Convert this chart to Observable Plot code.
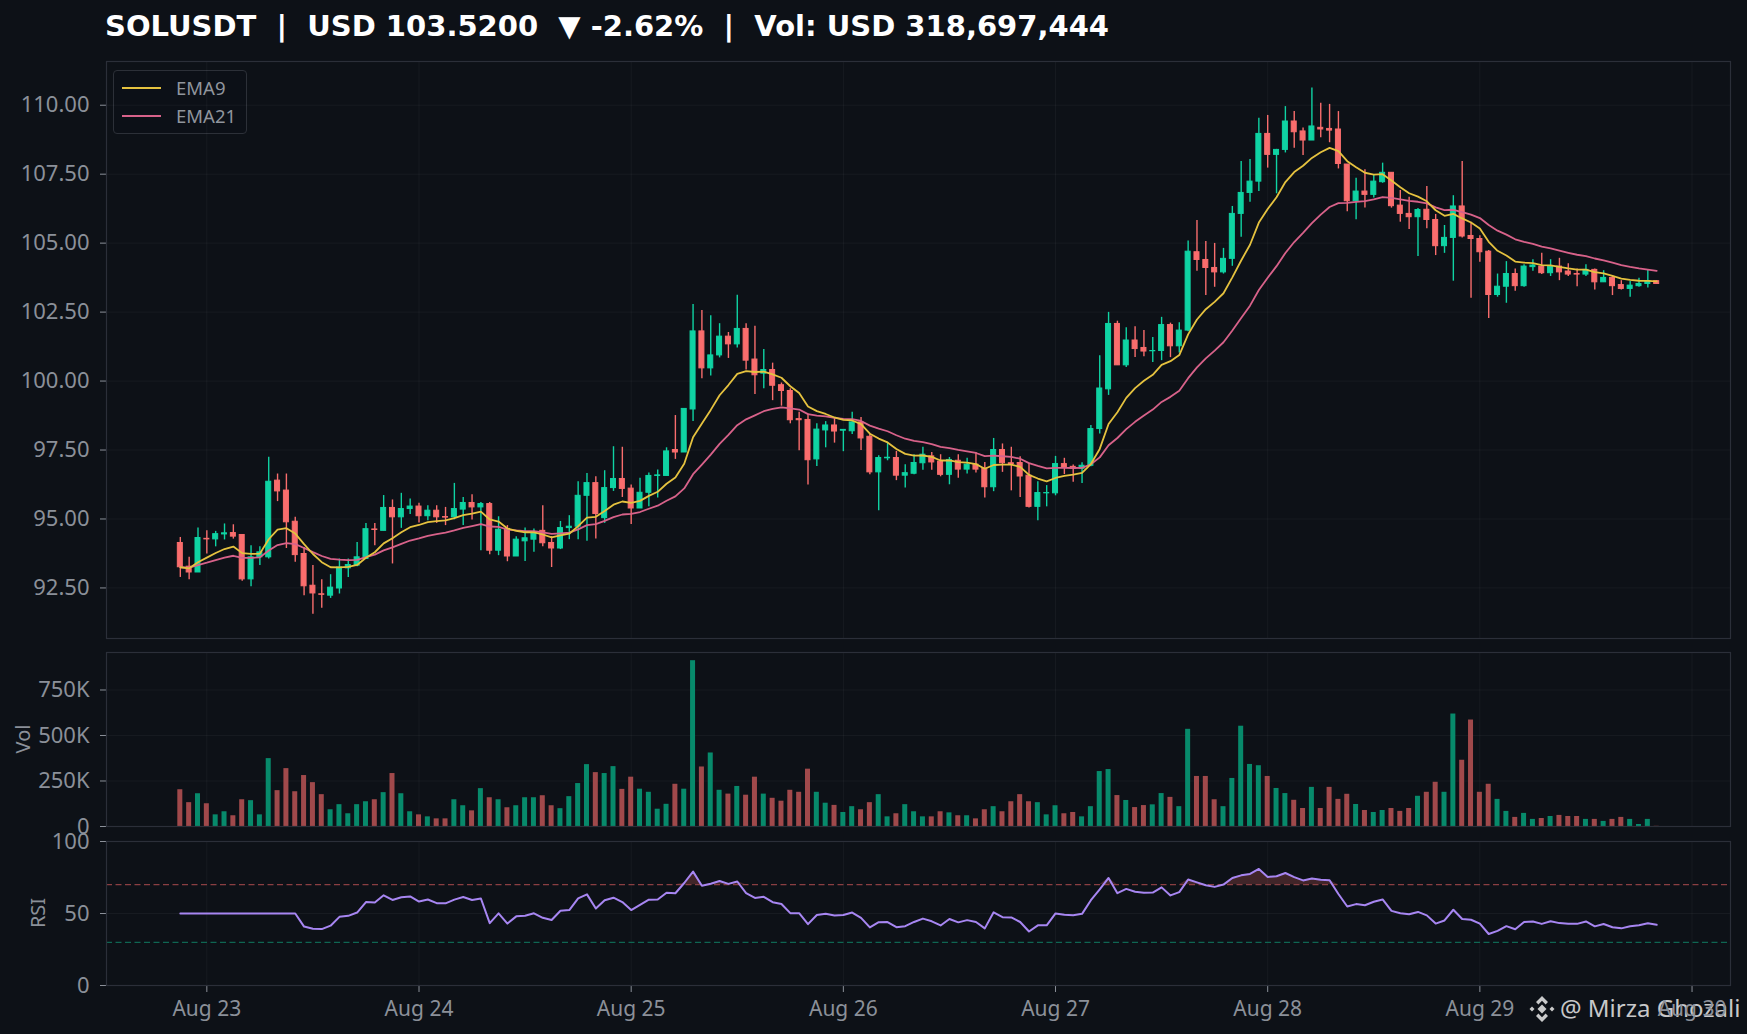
<!DOCTYPE html>
<html><head><meta charset="utf-8">
<script src="https://cdn.jsdelivr.net/npm/d3@7"></script>
<script src="https://cdn.jsdelivr.net/npm/@observablehq/plot@0.6"></script>
<style>
html,body{margin:0;padding:0;background:#0d1117;}
#wrap{position:relative;width:1747px;height:1034px;background:#0d1117;overflow:hidden;font-family:"Noto Sans",sans-serif;}
#title{position:absolute;left:105px;top:12px;color:#ffffff;font-family:"DejaVu Sans",sans-serif;font-weight:bold;font-size:29px;line-height:29px;white-space:pre;}
.panel{position:absolute;left:0;}
.ylab{position:absolute;color:#8b9099;font-size:20px;transform:translate(-50%,-50%) rotate(-90deg);white-space:nowrap;}
#legend{position:absolute;left:113px;top:70px;width:132px;height:62px;border:1px solid #2c3038;border-radius:4px;background:rgba(13,17,23,0.85);}
.lg{position:absolute;left:0;width:132px;height:22px;}
.lg .sw{position:absolute;left:8px;top:10px;width:39px;height:2px;}
.lg .tx{position:absolute;left:62px;top:0;color:#90959d;font-size:18.5px;line-height:22px;}
#wm{position:absolute;left:1528px;top:991px;height:34px;color:rgba(235,235,235,0.85);font-size:24px;line-height:34px;white-space:nowrap;}
#wm svg{vertical-align:middle;margin-right:4px;position:relative;top:-2px;}
</style></head>
<body><div id="wrap">
<div id="title"></div>
<div id="legend"></div>
<div id="wm"></div>
</div>
<script>
// ---- data (hourly candles, SOLUSDT) ----
const startTime = "2024-08-22T21:00:00Z";
const opens = [94.13,93.27,93.06,94.28,94.26,94.44,94.49,94.42,92.81,93.61,93.61,96.39,96.03,94.90,93.73,92.58,92.27,92.22,92.48,93.21,93.31,93.55,94.62,94.57,95.40,
95.06,95.36,95.45,95.10,95.30,95.07,95.06,95.34,95.58,95.42,95.54,93.85,94.64,93.64,94.19,94.25,94.57,94.13,93.93,94.67,94.72,95.84,96.30,95.03,96.12,96.45,
96.10,95.38,95.95,96.56,96.56,97.50,97.41,98.97,101.80,100.46,100.93,101.61,101.33,101.89,100.78,100.27,100.40,99.85,99.64,98.62,98.59,97.16,98.21,98.39,98.20,
98.18,98.50,97.98,96.69,97.20,97.21,96.57,96.64,97.02,97.27,97.08,96.60,97.11,96.79,96.97,96.83,96.15,97.50,97.02,97.03,96.57,95.44,95.93,95.93,96.99,
96.89,96.82,96.93,98.26,99.70,102.07,100.57,101.47,101.20,101.08,101.09,102.03,101.26,101.83,104.67,104.39,104.10,103.94,104.43,106.06,106.82,107.23,108.96,108.20,108.38,
109.41,109.05,108.72,109.18,109.14,109.12,107.85,106.52,106.87,106.75,107.21,107.55,106.36,106.06,105.94,106.21,105.84,104.89,105.19,106.33,105.26,105.15,104.69,103.12,103.42,
103.88,103.44,104.13,104.15,103.91,104.15,103.97,103.88,103.86,104.03,103.58,103.74,103.48,103.34,103.44,103.52,103.62];
const highs = [94.33,93.61,94.67,94.57,94.55,94.82,94.79,94.42,94.03,93.99,97.24,96.63,96.63,95.06,93.97,93.31,92.80,92.98,93.55,93.55,94.15,94.84,94.84,95.85,95.69,
95.93,95.72,95.57,95.48,95.48,95.42,96.29,95.78,95.88,95.60,95.60,95.08,94.76,94.36,94.67,94.64,95.48,94.36,94.91,95.12,96.35,96.65,96.53,96.75,97.62,97.60,
96.23,96.48,96.67,96.78,97.58,98.75,98.99,102.78,102.56,102.37,102.08,101.76,103.11,102.08,101.99,101.14,100.65,99.93,99.72,98.87,98.81,98.45,98.53,98.64,98.24,
98.87,98.68,98.08,97.29,97.78,97.45,96.97,97.33,97.60,97.41,97.33,97.23,97.33,97.20,97.41,97.05,97.92,97.72,97.60,97.26,97.02,96.35,96.21,97.27,97.20,
96.96,97.04,98.39,100.92,102.49,102.17,101.93,101.97,101.83,101.58,102.31,102.10,102.11,105.08,105.82,105.06,104.99,104.81,106.33,107.96,108.03,109.53,109.63,108.40,109.95,
109.77,109.17,110.62,110.07,110.03,109.77,107.85,107.35,107.66,107.47,107.90,107.55,106.91,106.66,106.26,107.05,106.04,105.64,106.72,107.96,105.76,105.27,104.73,103.88,104.33,
104.06,104.22,104.40,104.63,104.40,104.45,104.25,104.06,104.22,104.06,104.00,103.82,103.64,103.61,103.73,104.03,103.64];
const lows = [92.88,92.80,93.06,93.73,93.99,94.24,94.27,92.74,92.54,93.31,93.55,95.63,93.93,93.43,92.22,91.55,91.76,92.12,92.28,92.88,93.27,93.55,94.03,94.57,93.37,
94.66,95.16,94.85,94.94,94.84,94.76,94.97,94.76,94.96,93.85,93.70,93.67,93.45,93.64,93.46,93.79,93.99,93.24,93.89,94.25,94.25,94.19,94.27,94.84,96.00,95.78,
94.80,95.38,95.44,95.76,96.56,97.16,97.41,98.53,100.08,100.18,100.84,100.82,101.20,100.40,99.51,99.72,99.29,99.09,98.45,97.47,96.23,96.90,97.58,97.75,97.44,
98.06,97.48,96.60,95.30,97.11,96.39,96.12,96.60,96.77,96.77,96.53,96.24,96.48,96.63,96.67,95.76,95.99,96.69,96.02,95.78,95.40,94.94,95.44,95.84,96.61,
96.33,96.29,96.89,98.08,99.48,100.57,100.49,100.85,100.88,100.67,100.74,100.85,101.02,101.79,103.98,103.10,103.40,103.88,104.16,105.21,106.48,106.87,107.72,106.79,108.27,
108.44,108.18,108.72,108.82,108.64,107.69,106.14,105.85,106.27,106.64,107.17,106.27,105.76,105.49,104.52,105.52,104.55,104.63,103.62,105.19,103.00,104.31,102.27,103.04,102.82,
103.26,103.40,103.98,103.86,103.79,103.64,103.79,103.42,103.79,103.30,103.58,103.10,103.30,103.04,103.40,103.37,103.50];
const closes = [93.25,93.06,94.31,94.26,94.45,94.48,94.36,92.81,93.61,93.79,96.35,96.00,94.88,93.69,92.56,92.30,92.25,92.51,93.24,93.33,93.61,94.63,94.60,95.40,95.06,
95.36,95.45,95.10,95.30,95.06,95.05,95.36,95.58,95.42,95.54,93.85,94.61,93.64,94.25,94.30,94.51,94.12,93.93,94.67,94.72,95.84,96.30,95.18,96.12,96.45,96.09,
95.38,95.95,96.56,96.58,97.45,97.41,98.99,101.80,100.46,100.93,101.61,101.33,101.89,100.74,100.21,100.40,99.83,99.64,98.58,98.58,97.13,98.24,98.39,98.17,98.23,
98.50,97.92,96.69,97.21,97.22,96.57,96.66,97.03,97.33,97.05,96.60,97.14,96.79,96.97,96.79,96.15,97.50,97.02,96.99,96.54,95.44,95.94,95.94,96.99,96.85,
96.82,96.93,98.26,99.73,102.07,100.57,101.47,101.16,101.07,101.09,102.03,101.26,101.83,104.69,104.39,104.10,103.94,104.43,106.06,106.82,107.23,108.96,108.20,108.38,109.41,
109.02,108.72,109.23,109.12,109.08,107.87,106.52,106.87,106.75,107.23,107.55,106.34,106.06,105.94,106.20,105.84,104.89,105.19,106.33,105.24,105.15,104.67,103.12,103.42,103.88,
103.44,104.15,104.19,103.91,104.15,103.94,103.86,103.86,104.03,103.58,103.74,103.44,103.34,103.46,103.52,103.62,103.52];
const volumesK = [202,131,180,125,64,81,59,147,142,64,373,197,318,191,280,241,175,92,120,70,120,136,147,186,291,
180,81,64,53,42,42,147,114,86,208,158,147,103,114,158,158,169,114,98,164,236,340,296,291,329,204,
271,205,188,95,122,232,205,911,327,404,199,178,220,172,271,178,155,139,199,188,315,188,128,116,77,
109,92,131,175,53,70,120,81,53,53,81,75,59,59,42,92,109,81,136,175,136,131,64,114,70,
77,53,109,302,313,170,143,104,115,119,181,160,109,534,275,275,147,109,264,551,341,334,275,209,181,
144,99,215,99,215,149,177,121,88,77,88,99,83,99,166,188,243,188,618,364,585,188,232,149,83,
50,72,39,44,55,61,55,55,39,39,28,39,50,39,11,39,1];
const priceTicks = [92.5,95,97.5,100,102.5,105,107.5,110];
const volTicks = [0,250000,500000,750000];
const rsiTicks = [0,50,100];
const dayTicks = ["2024-08-23","2024-08-24","2024-08-25","2024-08-26","2024-08-27","2024-08-28","2024-08-29","2024-08-30"];
const titleText = "SOLUSDT  |  USD 103.5200  \u25BC -2.62%  |  Vol: USD 318,697,444";
const seriesNames = ["EMA9","EMA21"];

// ---- styling ----
const UP="#0fd3a3", DN="#f96d6d", VUP="#078a6b", VDN="#a0494b";
const C9="#e5c23f", C21="#d8628a", CRSI="#a786f2", FRAME="#2b2f39", TXT="#8b9099";

const HOUR = 3600e3;
const t0 = new Date(startTime).getTime();
const candles = opens.map((o,i)=>({t:new Date(t0+i*HOUR), o, h:highs[i], l:lows[i], c:closes[i], v:volumesK[i]*1000, up:closes[i]>=o}));
function ema(vals, span){const a=2/(span+1); let p; return vals.map((v,i)=>(p = i===0 ? v : a*v+(1-a)*p));}
const e9 = ema(closes,9), e21 = ema(closes,21);
// RSI(14): exponentially weighted (alpha 1/14, adjusted weights), neutral 50 before enough data
const rsi = (()=>{
  const b=1-1/14, out=[]; let ng=0, nl=0, den=0;
  closes.forEach((c,i)=>{
    if(i===0){out.push(50); return;}
    const d=c-closes[i-1], g=Math.max(d,0), l=Math.max(-d,0);
    ng=g+b*ng; nl=l+b*nl; den=1+b*den;
    const ag=ng/den, al=nl/den;
    out.push(i<14 ? 50 : (al===0 ? 100 : 100-100/(1+ag/al)));
  });
  return out;
})();
const lines = candles.map((d,i)=>({t:d.t, e9:e9[i], e21:e21[i], r:rsi[i]}));
const xDomain = [new Date(t0-8.35*HOUR), new Date(t0+(candles.length-1+8.35)*HOUR)];
const days = dayTicks.map(s=>new Date(s+"T00:00:00Z"));
const half = 17*60e3, vhalf = 17*60e3;

const common = {width:1747, marginLeft:106, marginRight:17,
  style:{background:"none", color:TXT, fontSize:"21px", fontFamily:"Noto Sans, sans-serif", overflow:"visible"},
  color:{type:"identity"}};
const gridStyle = {stroke:"#ffffff", strokeOpacity:0.045, strokeWidth:1};
const yAx = {tickSize:6, tickPadding:11, label:null, stroke:TXT, fontSize:22};

const price = Plot.plot({...common, height:593, marginTop:16, marginBottom:0,
  x:{type:"utc", domain:xDomain, axis:null},
  y:{domain:[90.667,111.585], axis:null},
  marks:[
    Plot.gridX(days, gridStyle),
    Plot.gridY(priceTicks, gridStyle),
    Plot.ruleX(candles,{x:"t", y1:"l", y2:"h", stroke:d=>d.up?UP:DN, strokeWidth:1.4}),
    Plot.rect(candles,{x1:d=>new Date(+d.t-half), x2:d=>new Date(+d.t+half), y1:"o", y2:"c", fill:d=>d.up?UP:DN, stroke:d=>d.up?UP:DN, strokeWidth:1}),
    Plot.line(lines,{x:"t", y:"e21", stroke:C21, strokeWidth:1.8}),
    Plot.line(lines,{x:"t", y:"e9", stroke:C9, strokeWidth:1.8}),
    Plot.axisY(priceTicks,{...yAx, tickFormat:d=>d.toFixed(2)}),
    Plot.frame({stroke:FRAME, strokeWidth:1.2})
  ]});

const vol = Plot.plot({...common, height:186, marginTop:12, marginBottom:0,
  x:{type:"utc", domain:xDomain, axis:null},
  y:{domain:[0,956000], axis:null},
  marks:[
    Plot.gridX(days, gridStyle),
    Plot.gridY(volTicks, gridStyle),
    Plot.rectY(candles,{x1:d=>new Date(+d.t-vhalf), x2:d=>new Date(+d.t+vhalf), y:"v", fill:d=>d.up?VUP:VDN}),
    Plot.axisY(volTicks,{...yAx, tickFormat:d=>d===0?"0":(d/1000)+"K"}),
    Plot.frame({stroke:FRAME, strokeWidth:1.2})
  ]});

const rsiPlot = Plot.plot({...common, height:204, marginTop:11, marginBottom:49,
  x:{type:"utc", domain:xDomain, axis:null},
  y:{domain:[0,100], axis:null},
  marks:[
    Plot.gridX(days, gridStyle),
    Plot.gridY(rsiTicks, gridStyle),
    Plot.areaY(lines,{x:"t", y1:70, y2:d=>Math.max(d.r,70), fill:"#f96d6d", fillOpacity:0.22}),
    Plot.areaY(lines,{x:"t", y1:30, y2:d=>Math.min(d.r,30), fill:"#0fd3a3", fillOpacity:0.22}),
    Plot.ruleY([70],{stroke:"#8a3f42", strokeDasharray:"6,3.5", strokeWidth:1.3}),
    Plot.ruleY([30],{stroke:"#0f6652", strokeDasharray:"6,3.5", strokeWidth:1.3}),
    Plot.line(lines,{x:"t", y:"r", stroke:CRSI, strokeWidth:2}),
    Plot.axisY(rsiTicks, yAx),
    Plot.axisX(days,{tickFormat:d3.utcFormat("%b %d"), tickSize:7, tickPadding:9, label:null, stroke:TXT, fontSize:21}),
    Plot.frame({stroke:FRAME, strokeWidth:1.2})
  ]});

const wrap = document.getElementById("wrap");
function place(el, top){el.classList.add("panel"); el.style.top=top+"px"; wrap.appendChild(el);}
place(price,45); place(vol,640); place(rsiPlot,830);

document.getElementById("title").textContent = titleText;

const legend = document.getElementById("legend");
[[seriesNames[0],C9],[seriesNames[1],C21]].forEach(([name,col],i)=>{
  const row=document.createElement("div"); row.className="lg"; row.style.top=(6+i*28)+"px";
  row.innerHTML=`<div class="sw" style="background:${col}"></div><div class="tx">${name}</div>`;
  legend.appendChild(row);
});

[["Vol",22,739],["RSI",37,913]].forEach(([t,x,y])=>{
  const d=document.createElement("div"); d.className="ylab"; d.textContent=t;
  d.style.left=x+"px"; d.style.top=y+"px"; wrap.appendChild(d);
});

document.getElementById("wm").innerHTML =
 `<svg width="28" height="28" viewBox="0 0 28 28"><g fill="rgba(235,235,235,0.85)">
  <path d="M14 9.5 L18.5 14 L14 18.5 L9.5 14 Z"/>
  <path d="M14 1 L20 7 L17.6 9.4 L14 5.8 L10.4 9.4 L8 7 Z"/>
  <path d="M14 27 L20 21 L17.6 18.6 L14 22.2 L10.4 18.6 L8 21 Z"/>
  <path d="M1.5 14 L4 11.5 L6.5 14 L4 16.5 Z"/>
  <path d="M26.5 14 L24 11.5 L21.5 14 L24 16.5 Z"/></g></svg>@ Mirza Ghozali`;
</script>
</body></html>
